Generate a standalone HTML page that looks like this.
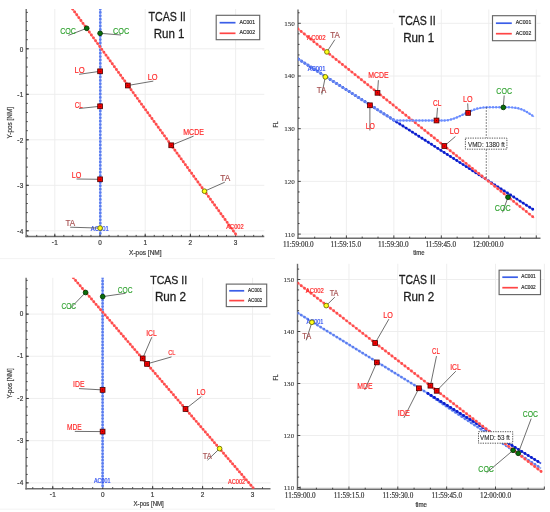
<!DOCTYPE html>
<html><head><meta charset="utf-8"><title>TCAS II runs</title><style>html,body{margin:0;padding:0;background:#fff;width:550px;height:512px;overflow:hidden}svg{display:block;filter:blur(0.4px)}</style></head><body>
<svg width="550" height="512" viewBox="0 0 550 512">
<defs><filter id="sh" x="-10%" y="-10%" width="130%" height="140%"><feDropShadow dx="0.6" dy="0.8" stdDeviation="0.6" flood-color="#000" flood-opacity="0.25"/></filter><clipPath id="c1"><rect x="26" y="9" width="239" height="228"/></clipPath><clipPath id="c2"><rect x="298" y="9.5" width="243" height="229"/></clipPath><clipPath id="c3"><rect x="26" y="277.8" width="245" height="211"/></clipPath><clipPath id="c4"><rect x="297.5" y="263.8" width="247" height="226"/></clipPath></defs>
<rect width="550" height="512" fill="#ffffff"/>
<line x1="0" y1="258.6" x2="275" y2="258.6" stroke="#f3f3f3" stroke-width="1"/>
<line x1="0" y1="509.2" x2="275" y2="509.2" stroke="#f3f3f3" stroke-width="1"/>
<line x1="54.8" y1="9" x2="54.8" y2="236.5" stroke="#ececec" stroke-width="0.9"/>
<line x1="100" y1="9" x2="100" y2="236.5" stroke="#ececec" stroke-width="0.9"/>
<line x1="145.2" y1="9" x2="145.2" y2="236.5" stroke="#ececec" stroke-width="0.9"/>
<line x1="190.4" y1="9" x2="190.4" y2="236.5" stroke="#ececec" stroke-width="0.9"/>
<line x1="235.6" y1="9" x2="235.6" y2="236.5" stroke="#ececec" stroke-width="0.9"/>
<line x1="26.2" y1="48.8" x2="264.3" y2="48.8" stroke="#ececec" stroke-width="0.9"/>
<line x1="26.2" y1="94.3" x2="264.3" y2="94.3" stroke="#ececec" stroke-width="0.9"/>
<line x1="26.2" y1="139.8" x2="264.3" y2="139.8" stroke="#ececec" stroke-width="0.9"/>
<line x1="26.2" y1="185.3" x2="264.3" y2="185.3" stroke="#ececec" stroke-width="0.9"/>
<line x1="26.2" y1="230.8" x2="264.3" y2="230.8" stroke="#ececec" stroke-width="0.9"/>
<line x1="26.2" y1="9" x2="26.2" y2="237.2" stroke="#6e6e6e" stroke-width="1.4"/>
<line x1="25.5" y1="236.5" x2="264.3" y2="236.5" stroke="#6e6e6e" stroke-width="1.4"/>
<line x1="27.68" y1="236.5" x2="27.68" y2="234.9" stroke="#333" stroke-width="0.9"/>
<line x1="36.72" y1="236.5" x2="36.72" y2="234.9" stroke="#333" stroke-width="0.9"/>
<line x1="45.76" y1="236.5" x2="45.76" y2="234.9" stroke="#333" stroke-width="0.9"/>
<line x1="54.8" y1="236.5" x2="54.8" y2="234.9" stroke="#333" stroke-width="0.9"/>
<line x1="63.84" y1="236.5" x2="63.84" y2="234.9" stroke="#333" stroke-width="0.9"/>
<line x1="72.88" y1="236.5" x2="72.88" y2="234.9" stroke="#333" stroke-width="0.9"/>
<line x1="81.92" y1="236.5" x2="81.92" y2="234.9" stroke="#333" stroke-width="0.9"/>
<line x1="90.96" y1="236.5" x2="90.96" y2="234.9" stroke="#333" stroke-width="0.9"/>
<line x1="100" y1="236.5" x2="100" y2="234.9" stroke="#333" stroke-width="0.9"/>
<line x1="109.04" y1="236.5" x2="109.04" y2="234.9" stroke="#333" stroke-width="0.9"/>
<line x1="118.08" y1="236.5" x2="118.08" y2="234.9" stroke="#333" stroke-width="0.9"/>
<line x1="127.12" y1="236.5" x2="127.12" y2="234.9" stroke="#333" stroke-width="0.9"/>
<line x1="136.16" y1="236.5" x2="136.16" y2="234.9" stroke="#333" stroke-width="0.9"/>
<line x1="145.2" y1="236.5" x2="145.2" y2="234.9" stroke="#333" stroke-width="0.9"/>
<line x1="154.24" y1="236.5" x2="154.24" y2="234.9" stroke="#333" stroke-width="0.9"/>
<line x1="163.28" y1="236.5" x2="163.28" y2="234.9" stroke="#333" stroke-width="0.9"/>
<line x1="172.32" y1="236.5" x2="172.32" y2="234.9" stroke="#333" stroke-width="0.9"/>
<line x1="181.36" y1="236.5" x2="181.36" y2="234.9" stroke="#333" stroke-width="0.9"/>
<line x1="190.4" y1="236.5" x2="190.4" y2="234.9" stroke="#333" stroke-width="0.9"/>
<line x1="199.44" y1="236.5" x2="199.44" y2="234.9" stroke="#333" stroke-width="0.9"/>
<line x1="208.48" y1="236.5" x2="208.48" y2="234.9" stroke="#333" stroke-width="0.9"/>
<line x1="217.52" y1="236.5" x2="217.52" y2="234.9" stroke="#333" stroke-width="0.9"/>
<line x1="226.56" y1="236.5" x2="226.56" y2="234.9" stroke="#333" stroke-width="0.9"/>
<line x1="235.6" y1="236.5" x2="235.6" y2="234.9" stroke="#333" stroke-width="0.9"/>
<line x1="244.64" y1="236.5" x2="244.64" y2="234.9" stroke="#333" stroke-width="0.9"/>
<line x1="253.68" y1="236.5" x2="253.68" y2="234.9" stroke="#333" stroke-width="0.9"/>
<line x1="262.72" y1="236.5" x2="262.72" y2="234.9" stroke="#333" stroke-width="0.9"/>
<line x1="54.8" y1="236.5" x2="54.8" y2="233.7" stroke="#333" stroke-width="0.9"/>
<line x1="100" y1="236.5" x2="100" y2="233.7" stroke="#333" stroke-width="0.9"/>
<line x1="145.2" y1="236.5" x2="145.2" y2="233.7" stroke="#333" stroke-width="0.9"/>
<line x1="190.4" y1="236.5" x2="190.4" y2="233.7" stroke="#333" stroke-width="0.9"/>
<line x1="235.6" y1="236.5" x2="235.6" y2="233.7" stroke="#333" stroke-width="0.9"/>
<line x1="26.2" y1="12.4" x2="27.8" y2="12.4" stroke="#333" stroke-width="0.9"/>
<line x1="26.2" y1="21.5" x2="27.8" y2="21.5" stroke="#333" stroke-width="0.9"/>
<line x1="26.2" y1="30.6" x2="27.8" y2="30.6" stroke="#333" stroke-width="0.9"/>
<line x1="26.2" y1="39.7" x2="27.8" y2="39.7" stroke="#333" stroke-width="0.9"/>
<line x1="26.2" y1="48.8" x2="27.8" y2="48.8" stroke="#333" stroke-width="0.9"/>
<line x1="26.2" y1="57.9" x2="27.8" y2="57.9" stroke="#333" stroke-width="0.9"/>
<line x1="26.2" y1="67" x2="27.8" y2="67" stroke="#333" stroke-width="0.9"/>
<line x1="26.2" y1="76.1" x2="27.8" y2="76.1" stroke="#333" stroke-width="0.9"/>
<line x1="26.2" y1="85.2" x2="27.8" y2="85.2" stroke="#333" stroke-width="0.9"/>
<line x1="26.2" y1="94.3" x2="27.8" y2="94.3" stroke="#333" stroke-width="0.9"/>
<line x1="26.2" y1="103.4" x2="27.8" y2="103.4" stroke="#333" stroke-width="0.9"/>
<line x1="26.2" y1="112.5" x2="27.8" y2="112.5" stroke="#333" stroke-width="0.9"/>
<line x1="26.2" y1="121.6" x2="27.8" y2="121.6" stroke="#333" stroke-width="0.9"/>
<line x1="26.2" y1="130.7" x2="27.8" y2="130.7" stroke="#333" stroke-width="0.9"/>
<line x1="26.2" y1="139.8" x2="27.8" y2="139.8" stroke="#333" stroke-width="0.9"/>
<line x1="26.2" y1="148.9" x2="27.8" y2="148.9" stroke="#333" stroke-width="0.9"/>
<line x1="26.2" y1="158" x2="27.8" y2="158" stroke="#333" stroke-width="0.9"/>
<line x1="26.2" y1="167.1" x2="27.8" y2="167.1" stroke="#333" stroke-width="0.9"/>
<line x1="26.2" y1="176.2" x2="27.8" y2="176.2" stroke="#333" stroke-width="0.9"/>
<line x1="26.2" y1="185.3" x2="27.8" y2="185.3" stroke="#333" stroke-width="0.9"/>
<line x1="26.2" y1="194.4" x2="27.8" y2="194.4" stroke="#333" stroke-width="0.9"/>
<line x1="26.2" y1="203.5" x2="27.8" y2="203.5" stroke="#333" stroke-width="0.9"/>
<line x1="26.2" y1="212.6" x2="27.8" y2="212.6" stroke="#333" stroke-width="0.9"/>
<line x1="26.2" y1="221.7" x2="27.8" y2="221.7" stroke="#333" stroke-width="0.9"/>
<line x1="26.2" y1="230.8" x2="27.8" y2="230.8" stroke="#333" stroke-width="0.9"/>
<line x1="26.2" y1="48.8" x2="29" y2="48.8" stroke="#333" stroke-width="0.9"/>
<line x1="26.2" y1="94.3" x2="29" y2="94.3" stroke="#333" stroke-width="0.9"/>
<line x1="26.2" y1="139.8" x2="29" y2="139.8" stroke="#333" stroke-width="0.9"/>
<line x1="26.2" y1="185.3" x2="29" y2="185.3" stroke="#333" stroke-width="0.9"/>
<line x1="26.2" y1="230.8" x2="29" y2="230.8" stroke="#333" stroke-width="0.9"/>
<text x="54.8" y="244.9" font-family="'Liberation Sans', Arial, sans-serif" font-size="6.4" fill="#3a3a3a" stroke="#3a3a3a" stroke-width="0.2" text-anchor="middle"><tspan dy="-0.5">-</tspan><tspan dy="0.5" dx="0.35">1</tspan></text>
<text x="100" y="244.9" font-family="'Liberation Sans', Arial, sans-serif" font-size="6.4" fill="#3a3a3a" stroke="#3a3a3a" stroke-width="0.2" text-anchor="middle">0</text>
<text x="145.2" y="244.9" font-family="'Liberation Sans', Arial, sans-serif" font-size="6.4" fill="#3a3a3a" stroke="#3a3a3a" stroke-width="0.2" text-anchor="middle">1</text>
<text x="190.4" y="244.9" font-family="'Liberation Sans', Arial, sans-serif" font-size="6.4" fill="#3a3a3a" stroke="#3a3a3a" stroke-width="0.2" text-anchor="middle">2</text>
<text x="235.6" y="244.9" font-family="'Liberation Sans', Arial, sans-serif" font-size="6.4" fill="#3a3a3a" stroke="#3a3a3a" stroke-width="0.2" text-anchor="middle">3</text>
<text x="23.4" y="51.5" font-family="'Liberation Sans', Arial, sans-serif" font-size="6.4" fill="#3a3a3a" stroke="#3a3a3a" stroke-width="0.2" text-anchor="end">0</text>
<text x="23.4" y="97" font-family="'Liberation Sans', Arial, sans-serif" font-size="6.4" fill="#3a3a3a" stroke="#3a3a3a" stroke-width="0.2" text-anchor="end"><tspan dy="-0.5">-</tspan><tspan dy="0.5" dx="0.35">1</tspan></text>
<text x="23.4" y="142.5" font-family="'Liberation Sans', Arial, sans-serif" font-size="6.4" fill="#3a3a3a" stroke="#3a3a3a" stroke-width="0.2" text-anchor="end"><tspan dy="-0.5">-</tspan><tspan dy="0.5" dx="0.35">2</tspan></text>
<text x="23.4" y="188" font-family="'Liberation Sans', Arial, sans-serif" font-size="6.4" fill="#3a3a3a" stroke="#3a3a3a" stroke-width="0.2" text-anchor="end"><tspan dy="-0.5">-</tspan><tspan dy="0.5" dx="0.35">3</tspan></text>
<text x="23.4" y="233.5" font-family="'Liberation Sans', Arial, sans-serif" font-size="6.4" fill="#3a3a3a" stroke="#3a3a3a" stroke-width="0.2" text-anchor="end"><tspan dy="-0.5">-</tspan><tspan dy="0.5" dx="0.35">4</tspan></text>
<text x="129.1" y="254.71" font-family="'Liberation Sans', Arial, sans-serif" font-size="7" fill="#3a3a3a" stroke="#3a3a3a" stroke-width="0.2" textLength="32.5" lengthAdjust="spacingAndGlyphs">X-pos [NM]</text>
<g transform="translate(9.6 122.7) rotate(-90)">
<text x="-15.7" y="2.41" font-family="'Liberation Sans', Arial, sans-serif" font-size="7" fill="#3a3a3a" stroke="#3a3a3a" stroke-width="0.2" textLength="31.4" lengthAdjust="spacingAndGlyphs">Y-pos [NM]</text>
</g>
<rect x="147.3" y="8.9" width="40.1" height="14.9" fill="#ffffff"/>
<rect x="152.4" y="25.4" width="33.7" height="15.3" fill="#ffffff"/>
<text x="148.6" y="20.93" font-family="'Liberation Sans', Arial, sans-serif" font-size="12.72" fill="#1e1e1e" stroke="#1e1e1e" stroke-width="0.3" textLength="37.2" lengthAdjust="spacingAndGlyphs">TCAS II</text>
<text x="153.7" y="37.83" font-family="'Liberation Sans', Arial, sans-serif" font-size="13.3" fill="#1e1e1e" stroke="#1e1e1e" stroke-width="0.3" textLength="30.8" lengthAdjust="spacingAndGlyphs">Run 1</text>
<rect x="216.2" y="15.3" width="43.5" height="24.4" fill="#ffffff" stroke="#666" stroke-width="1.15"/>
<line x1="219.6" y1="22.7" x2="235.5" y2="22.7" stroke="#3a5ee8" stroke-width="1.7"/>
<line x1="219.6" y1="33.3" x2="235.5" y2="33.3" stroke="#ff4545" stroke-width="1.7"/>
<text x="239.39" y="23.66" font-family="'Liberation Sans', Arial, sans-serif" font-size="5.4" fill="#2a2a2a" stroke="#2a2a2a" stroke-width="0.18" textLength="15.62" lengthAdjust="spacingAndGlyphs">AC001</text>
<text x="239.39" y="34.16" font-family="'Liberation Sans', Arial, sans-serif" font-size="5.4" fill="#2a2a2a" stroke="#2a2a2a" stroke-width="0.18" textLength="15.62" lengthAdjust="spacingAndGlyphs">AC002</text>
<path d="M100.3 9 L100.3 233.5" fill="none" stroke="#9cb3f8" stroke-width="1.7" stroke-opacity="1" clip-path="url(#c1)"/>
<path d="M100.3 9 L100.3 233.5" fill="none" stroke="#5c7ef0" stroke-width="2.8" stroke-linecap="round" stroke-dasharray="0 3.4" clip-path="url(#c1)"/>
<path d="M72.57 9 L236.9 235.8" fill="none" stroke="#ff9c9c" stroke-width="1.7" stroke-opacity="1" clip-path="url(#c1)"/>
<path d="M72.57 9 L236.9 235.8" fill="none" stroke="#ff4c4c" stroke-width="2.9" stroke-linecap="round" stroke-dasharray="0 3.56" clip-path="url(#c1)"/>
<line x1="68.3" y1="35.4" x2="86.7" y2="28.3" stroke="#4a4a4a" stroke-width="0.8"/>
<circle cx="86.7" cy="28.3" r="2.35" fill="#0a6e0a" stroke="#033803" stroke-width="0.9"/>
<text x="60.14" y="34.19" font-family="'Liberation Sans', Arial, sans-serif" font-size="9.55" fill="#34a434" stroke="#34a434" stroke-width="0.18" textLength="15.92" lengthAdjust="spacingAndGlyphs">COC</text>
<line x1="100.1" y1="33.3" x2="121" y2="35" stroke="#4a4a4a" stroke-width="0.8"/>
<circle cx="100.1" cy="33.3" r="2.35" fill="#0a6e0a" stroke="#033803" stroke-width="0.9"/>
<text x="112.94" y="34.19" font-family="'Liberation Sans', Arial, sans-serif" font-size="9.55" fill="#34a434" stroke="#34a434" stroke-width="0.18" textLength="16.32" lengthAdjust="spacingAndGlyphs">COC</text>
<line x1="79.1" y1="74.3" x2="100.1" y2="71.3" stroke="#4a4a4a" stroke-width="0.8"/>
<rect x="97.7" y="68.9" width="4.8" height="4.8" fill="#f20000" stroke="#4a0000" stroke-width="0.8"/>
<circle cx="100.1" cy="71.3" r="0.55" fill="#6a0000"/>
<text x="74.44" y="73.48" font-family="'Liberation Sans', Arial, sans-serif" font-size="9.26" fill="#ff2a2a" stroke="#ff2a2a" stroke-width="0.18" textLength="10.22" lengthAdjust="spacingAndGlyphs">LO</text>
<line x1="79.1" y1="108.5" x2="100.1" y2="106.3" stroke="#4a4a4a" stroke-width="0.8"/>
<rect x="97.7" y="103.9" width="4.8" height="4.8" fill="#f20000" stroke="#4a0000" stroke-width="0.8"/>
<circle cx="100.1" cy="106.3" r="0.55" fill="#6a0000"/>
<text x="74.74" y="107.58" font-family="'Liberation Sans', Arial, sans-serif" font-size="9.26" fill="#ff2a2a" stroke="#ff2a2a" stroke-width="0.18" textLength="8.02" lengthAdjust="spacingAndGlyphs">CL</text>
<line x1="76.5" y1="179" x2="100.1" y2="179.3" stroke="#4a4a4a" stroke-width="0.8"/>
<rect x="97.7" y="176.9" width="4.8" height="4.8" fill="#f20000" stroke="#4a0000" stroke-width="0.8"/>
<circle cx="100.1" cy="179.3" r="0.55" fill="#6a0000"/>
<text x="71.84" y="177.68" font-family="'Liberation Sans', Arial, sans-serif" font-size="8.39" fill="#ff2a2a" stroke="#ff2a2a" stroke-width="0.18" textLength="9.62" lengthAdjust="spacingAndGlyphs">LO</text>
<line x1="127.8" y1="85.5" x2="153.3" y2="81.1" stroke="#4a4a4a" stroke-width="0.8"/>
<rect x="125.4" y="83.1" width="4.8" height="4.8" fill="#f20000" stroke="#4a0000" stroke-width="0.8"/>
<circle cx="127.8" cy="85.5" r="0.55" fill="#6a0000"/>
<text x="147.64" y="79.78" font-family="'Liberation Sans', Arial, sans-serif" font-size="8.24" fill="#ff2a2a" stroke="#ff2a2a" stroke-width="0.18" textLength="9.92" lengthAdjust="spacingAndGlyphs">LO</text>
<line x1="171.25" y1="145.3" x2="193.6" y2="136.1" stroke="#4a4a4a" stroke-width="0.8"/>
<rect x="168.85" y="142.9" width="4.8" height="4.8" fill="#f20000" stroke="#4a0000" stroke-width="0.8"/>
<circle cx="171.25" cy="145.3" r="0.55" fill="#6a0000"/>
<text x="183.24" y="135.18" font-family="'Liberation Sans', Arial, sans-serif" font-size="8.82" fill="#ff2a2a" stroke="#ff2a2a" stroke-width="0.18" textLength="20.72" lengthAdjust="spacingAndGlyphs">MCDE</text>
<text x="90.8" y="231.07" font-family="'Liberation Sans', Arial, sans-serif" font-size="6.6" fill="#3050f0" stroke="#3050f0" stroke-width="0.2" textLength="17.9" lengthAdjust="spacingAndGlyphs">AC001</text>
<line x1="70.2" y1="227.2" x2="100.1" y2="228.1" stroke="#4a4a4a" stroke-width="0.8"/>
<circle cx="100.1" cy="228.1" r="2.35" fill="#ffff1a" stroke="#707000" stroke-width="0.9"/>
<text x="65.44" y="226.28" font-family="'Liberation Sans', Arial, sans-serif" font-size="8.82" fill="#a65050" stroke="#a65050" stroke-width="0.18" textLength="9.72" lengthAdjust="spacingAndGlyphs">TA</text>
<line x1="204.5" y1="191.2" x2="224.8" y2="182.2" stroke="#4a4a4a" stroke-width="0.8"/>
<circle cx="204.5" cy="191.2" r="2.35" fill="#ffff1a" stroke="#707000" stroke-width="0.9"/>
<text x="220.34" y="180.58" font-family="'Liberation Sans', Arial, sans-serif" font-size="9.69" fill="#a65050" stroke="#a65050" stroke-width="0.18" textLength="9.92" lengthAdjust="spacingAndGlyphs">TA</text>
<text x="226.3" y="228.57" font-family="'Liberation Sans', Arial, sans-serif" font-size="6.6" fill="#ff2a2a" stroke="#ff2a2a" stroke-width="0.2" textLength="17.3" lengthAdjust="spacingAndGlyphs">AC002</text>
<line x1="52.75" y1="277.8" x2="52.75" y2="488.7" stroke="#ececec" stroke-width="0.9"/>
<line x1="102.7" y1="277.8" x2="102.7" y2="488.7" stroke="#ececec" stroke-width="0.9"/>
<line x1="152.65" y1="277.8" x2="152.65" y2="488.7" stroke="#ececec" stroke-width="0.9"/>
<line x1="202.6" y1="277.8" x2="202.6" y2="488.7" stroke="#ececec" stroke-width="0.9"/>
<line x1="252.55" y1="277.8" x2="252.55" y2="488.7" stroke="#ececec" stroke-width="0.9"/>
<line x1="26.1" y1="314.1" x2="270.5" y2="314.1" stroke="#ececec" stroke-width="0.9"/>
<line x1="26.1" y1="356.29" x2="270.5" y2="356.29" stroke="#ececec" stroke-width="0.9"/>
<line x1="26.1" y1="398.48" x2="270.5" y2="398.48" stroke="#ececec" stroke-width="0.9"/>
<line x1="26.1" y1="440.67" x2="270.5" y2="440.67" stroke="#ececec" stroke-width="0.9"/>
<line x1="26.1" y1="482.86" x2="270.5" y2="482.86" stroke="#ececec" stroke-width="0.9"/>
<line x1="26.1" y1="277.8" x2="26.1" y2="489.4" stroke="#6e6e6e" stroke-width="1.4"/>
<line x1="25.4" y1="488.7" x2="270.5" y2="488.7" stroke="#6e6e6e" stroke-width="1.4"/>
<line x1="32.77" y1="488.7" x2="32.77" y2="487.1" stroke="#333" stroke-width="0.9"/>
<line x1="42.76" y1="488.7" x2="42.76" y2="487.1" stroke="#333" stroke-width="0.9"/>
<line x1="52.75" y1="488.7" x2="52.75" y2="487.1" stroke="#333" stroke-width="0.9"/>
<line x1="62.74" y1="488.7" x2="62.74" y2="487.1" stroke="#333" stroke-width="0.9"/>
<line x1="72.73" y1="488.7" x2="72.73" y2="487.1" stroke="#333" stroke-width="0.9"/>
<line x1="82.72" y1="488.7" x2="82.72" y2="487.1" stroke="#333" stroke-width="0.9"/>
<line x1="92.71" y1="488.7" x2="92.71" y2="487.1" stroke="#333" stroke-width="0.9"/>
<line x1="102.7" y1="488.7" x2="102.7" y2="487.1" stroke="#333" stroke-width="0.9"/>
<line x1="112.69" y1="488.7" x2="112.69" y2="487.1" stroke="#333" stroke-width="0.9"/>
<line x1="122.68" y1="488.7" x2="122.68" y2="487.1" stroke="#333" stroke-width="0.9"/>
<line x1="132.67" y1="488.7" x2="132.67" y2="487.1" stroke="#333" stroke-width="0.9"/>
<line x1="142.66" y1="488.7" x2="142.66" y2="487.1" stroke="#333" stroke-width="0.9"/>
<line x1="152.65" y1="488.7" x2="152.65" y2="487.1" stroke="#333" stroke-width="0.9"/>
<line x1="162.64" y1="488.7" x2="162.64" y2="487.1" stroke="#333" stroke-width="0.9"/>
<line x1="172.63" y1="488.7" x2="172.63" y2="487.1" stroke="#333" stroke-width="0.9"/>
<line x1="182.62" y1="488.7" x2="182.62" y2="487.1" stroke="#333" stroke-width="0.9"/>
<line x1="192.61" y1="488.7" x2="192.61" y2="487.1" stroke="#333" stroke-width="0.9"/>
<line x1="202.6" y1="488.7" x2="202.6" y2="487.1" stroke="#333" stroke-width="0.9"/>
<line x1="212.59" y1="488.7" x2="212.59" y2="487.1" stroke="#333" stroke-width="0.9"/>
<line x1="222.58" y1="488.7" x2="222.58" y2="487.1" stroke="#333" stroke-width="0.9"/>
<line x1="232.57" y1="488.7" x2="232.57" y2="487.1" stroke="#333" stroke-width="0.9"/>
<line x1="242.56" y1="488.7" x2="242.56" y2="487.1" stroke="#333" stroke-width="0.9"/>
<line x1="252.55" y1="488.7" x2="252.55" y2="487.1" stroke="#333" stroke-width="0.9"/>
<line x1="262.54" y1="488.7" x2="262.54" y2="487.1" stroke="#333" stroke-width="0.9"/>
<line x1="52.75" y1="488.7" x2="52.75" y2="485.9" stroke="#333" stroke-width="0.9"/>
<line x1="102.7" y1="488.7" x2="102.7" y2="485.9" stroke="#333" stroke-width="0.9"/>
<line x1="152.65" y1="488.7" x2="152.65" y2="485.9" stroke="#333" stroke-width="0.9"/>
<line x1="202.6" y1="488.7" x2="202.6" y2="485.9" stroke="#333" stroke-width="0.9"/>
<line x1="252.55" y1="488.7" x2="252.55" y2="485.9" stroke="#333" stroke-width="0.9"/>
<line x1="26.1" y1="280.35" x2="27.7" y2="280.35" stroke="#333" stroke-width="0.9"/>
<line x1="26.1" y1="288.79" x2="27.7" y2="288.79" stroke="#333" stroke-width="0.9"/>
<line x1="26.1" y1="297.22" x2="27.7" y2="297.22" stroke="#333" stroke-width="0.9"/>
<line x1="26.1" y1="305.66" x2="27.7" y2="305.66" stroke="#333" stroke-width="0.9"/>
<line x1="26.1" y1="314.1" x2="27.7" y2="314.1" stroke="#333" stroke-width="0.9"/>
<line x1="26.1" y1="322.54" x2="27.7" y2="322.54" stroke="#333" stroke-width="0.9"/>
<line x1="26.1" y1="330.98" x2="27.7" y2="330.98" stroke="#333" stroke-width="0.9"/>
<line x1="26.1" y1="339.41" x2="27.7" y2="339.41" stroke="#333" stroke-width="0.9"/>
<line x1="26.1" y1="347.85" x2="27.7" y2="347.85" stroke="#333" stroke-width="0.9"/>
<line x1="26.1" y1="356.29" x2="27.7" y2="356.29" stroke="#333" stroke-width="0.9"/>
<line x1="26.1" y1="364.73" x2="27.7" y2="364.73" stroke="#333" stroke-width="0.9"/>
<line x1="26.1" y1="373.17" x2="27.7" y2="373.17" stroke="#333" stroke-width="0.9"/>
<line x1="26.1" y1="381.6" x2="27.7" y2="381.6" stroke="#333" stroke-width="0.9"/>
<line x1="26.1" y1="390.04" x2="27.7" y2="390.04" stroke="#333" stroke-width="0.9"/>
<line x1="26.1" y1="398.48" x2="27.7" y2="398.48" stroke="#333" stroke-width="0.9"/>
<line x1="26.1" y1="406.92" x2="27.7" y2="406.92" stroke="#333" stroke-width="0.9"/>
<line x1="26.1" y1="415.36" x2="27.7" y2="415.36" stroke="#333" stroke-width="0.9"/>
<line x1="26.1" y1="423.79" x2="27.7" y2="423.79" stroke="#333" stroke-width="0.9"/>
<line x1="26.1" y1="432.23" x2="27.7" y2="432.23" stroke="#333" stroke-width="0.9"/>
<line x1="26.1" y1="440.67" x2="27.7" y2="440.67" stroke="#333" stroke-width="0.9"/>
<line x1="26.1" y1="449.11" x2="27.7" y2="449.11" stroke="#333" stroke-width="0.9"/>
<line x1="26.1" y1="457.55" x2="27.7" y2="457.55" stroke="#333" stroke-width="0.9"/>
<line x1="26.1" y1="465.98" x2="27.7" y2="465.98" stroke="#333" stroke-width="0.9"/>
<line x1="26.1" y1="474.42" x2="27.7" y2="474.42" stroke="#333" stroke-width="0.9"/>
<line x1="26.1" y1="482.86" x2="27.7" y2="482.86" stroke="#333" stroke-width="0.9"/>
<line x1="26.1" y1="314.1" x2="28.9" y2="314.1" stroke="#333" stroke-width="0.9"/>
<line x1="26.1" y1="356.29" x2="28.9" y2="356.29" stroke="#333" stroke-width="0.9"/>
<line x1="26.1" y1="398.48" x2="28.9" y2="398.48" stroke="#333" stroke-width="0.9"/>
<line x1="26.1" y1="440.67" x2="28.9" y2="440.67" stroke="#333" stroke-width="0.9"/>
<line x1="26.1" y1="482.86" x2="28.9" y2="482.86" stroke="#333" stroke-width="0.9"/>
<text x="52.75" y="496.7" font-family="'Liberation Sans', Arial, sans-serif" font-size="6.4" fill="#3a3a3a" stroke="#3a3a3a" stroke-width="0.2" text-anchor="middle"><tspan dy="-0.5">-</tspan><tspan dy="0.5" dx="0.35">1</tspan></text>
<text x="102.7" y="496.7" font-family="'Liberation Sans', Arial, sans-serif" font-size="6.4" fill="#3a3a3a" stroke="#3a3a3a" stroke-width="0.2" text-anchor="middle">0</text>
<text x="152.65" y="496.7" font-family="'Liberation Sans', Arial, sans-serif" font-size="6.4" fill="#3a3a3a" stroke="#3a3a3a" stroke-width="0.2" text-anchor="middle">1</text>
<text x="202.6" y="496.7" font-family="'Liberation Sans', Arial, sans-serif" font-size="6.4" fill="#3a3a3a" stroke="#3a3a3a" stroke-width="0.2" text-anchor="middle">2</text>
<text x="252.55" y="496.7" font-family="'Liberation Sans', Arial, sans-serif" font-size="6.4" fill="#3a3a3a" stroke="#3a3a3a" stroke-width="0.2" text-anchor="middle">3</text>
<text x="23.3" y="316.3" font-family="'Liberation Sans', Arial, sans-serif" font-size="6.4" fill="#3a3a3a" stroke="#3a3a3a" stroke-width="0.2" text-anchor="end">0</text>
<text x="23.3" y="358.49" font-family="'Liberation Sans', Arial, sans-serif" font-size="6.4" fill="#3a3a3a" stroke="#3a3a3a" stroke-width="0.2" text-anchor="end"><tspan dy="-0.5">-</tspan><tspan dy="0.5" dx="0.35">1</tspan></text>
<text x="23.3" y="400.68" font-family="'Liberation Sans', Arial, sans-serif" font-size="6.4" fill="#3a3a3a" stroke="#3a3a3a" stroke-width="0.2" text-anchor="end"><tspan dy="-0.5">-</tspan><tspan dy="0.5" dx="0.35">2</tspan></text>
<text x="23.3" y="442.87" font-family="'Liberation Sans', Arial, sans-serif" font-size="6.4" fill="#3a3a3a" stroke="#3a3a3a" stroke-width="0.2" text-anchor="end"><tspan dy="-0.5">-</tspan><tspan dy="0.5" dx="0.35">3</tspan></text>
<text x="23.3" y="485.06" font-family="'Liberation Sans', Arial, sans-serif" font-size="6.4" fill="#3a3a3a" stroke="#3a3a3a" stroke-width="0.2" text-anchor="end"><tspan dy="-0.5">-</tspan><tspan dy="0.5" dx="0.35">4</tspan></text>
<text x="133.6" y="505.91" font-family="'Liberation Sans', Arial, sans-serif" font-size="7" fill="#3a3a3a" stroke="#3a3a3a" stroke-width="0.2" textLength="30.2" lengthAdjust="spacingAndGlyphs">X-pos [NM]</text>
<g transform="translate(9.9 383.4) rotate(-90)">
<text x="-15.1" y="2.41" font-family="'Liberation Sans', Arial, sans-serif" font-size="7" fill="#3a3a3a" stroke="#3a3a3a" stroke-width="0.2" textLength="30.2" lengthAdjust="spacingAndGlyphs">Y-pos [NM]</text>
</g>
<rect x="146.9" y="272.5" width="41.9" height="14" fill="#ffffff"/>
<rect x="153.8" y="289.7" width="33.9" height="14.3" fill="#ffffff"/>
<text x="150.2" y="283.62" font-family="'Liberation Sans', Arial, sans-serif" font-size="11.41" fill="#1e1e1e" stroke="#1e1e1e" stroke-width="0.3" textLength="37" lengthAdjust="spacingAndGlyphs">TCAS II</text>
<text x="154.9" y="301.12" font-family="'Liberation Sans', Arial, sans-serif" font-size="11.85" fill="#1e1e1e" stroke="#1e1e1e" stroke-width="0.3" textLength="31.2" lengthAdjust="spacingAndGlyphs">Run 2</text>
<rect x="226.3" y="284.1" width="40.4" height="22.5" fill="#ffffff" stroke="#666" stroke-width="1.15"/>
<line x1="229.2" y1="290.8" x2="244.2" y2="290.8" stroke="#3a5ee8" stroke-width="1.7"/>
<line x1="229.2" y1="300.6" x2="244.2" y2="300.6" stroke="#ff4545" stroke-width="1.7"/>
<text x="247.89" y="291.86" font-family="'Liberation Sans', Arial, sans-serif" font-size="5.4" fill="#2a2a2a" stroke="#2a2a2a" stroke-width="0.18" textLength="14.32" lengthAdjust="spacingAndGlyphs">AC001</text>
<text x="247.89" y="301.66" font-family="'Liberation Sans', Arial, sans-serif" font-size="5.4" fill="#2a2a2a" stroke="#2a2a2a" stroke-width="0.18" textLength="14.32" lengthAdjust="spacingAndGlyphs">AC002</text>
<path d="M102.6 277.8 L102.6 487.5" fill="none" stroke="#9cb3f8" stroke-width="1.7" stroke-opacity="1" clip-path="url(#c3)"/>
<path d="M102.6 277.8 L102.6 487.5" fill="none" stroke="#5c7ef0" stroke-width="2.8" stroke-linecap="round" stroke-dasharray="0 3.2" clip-path="url(#c3)"/>
<path d="M73.29 277.8 L253.4 488.17" fill="none" stroke="#ff9c9c" stroke-width="1.7" stroke-opacity="1" clip-path="url(#c3)"/>
<path d="M73.29 277.8 L253.4 488.17" fill="none" stroke="#ff4c4c" stroke-width="2.9" stroke-linecap="round" stroke-dasharray="0 3.5" clip-path="url(#c3)"/>
<line x1="85.6" y1="292.5" x2="69.6" y2="309" stroke="#4a4a4a" stroke-width="0.8"/>
<circle cx="85.6" cy="292.5" r="2.35" fill="#0a6e0a" stroke="#033803" stroke-width="0.9"/>
<text x="61.44" y="308.99" font-family="'Liberation Sans', Arial, sans-serif" font-size="8.39" fill="#34a434" stroke="#34a434" stroke-width="0.18" textLength="14.62" lengthAdjust="spacingAndGlyphs">COC</text>
<line x1="102.7" y1="296.6" x2="125.6" y2="293.3" stroke="#4a4a4a" stroke-width="0.8"/>
<circle cx="102.7" cy="296.6" r="2.35" fill="#0a6e0a" stroke="#033803" stroke-width="0.9"/>
<text x="117.74" y="292.79" font-family="'Liberation Sans', Arial, sans-serif" font-size="8.97" fill="#34a434" stroke="#34a434" stroke-width="0.18" textLength="14.82" lengthAdjust="spacingAndGlyphs">COC</text>
<line x1="142.7" y1="358.4" x2="151.8" y2="337.2" stroke="#4a4a4a" stroke-width="0.8"/>
<rect x="140.3" y="356" width="4.8" height="4.8" fill="#f20000" stroke="#4a0000" stroke-width="0.8"/>
<circle cx="142.7" cy="358.4" r="0.55" fill="#6a0000"/>
<text x="146.24" y="335.88" font-family="'Liberation Sans', Arial, sans-serif" font-size="8.68" fill="#ff2a2a" stroke="#ff2a2a" stroke-width="0.18" textLength="10.52" lengthAdjust="spacingAndGlyphs">ICL</text>
<line x1="147" y1="363.9" x2="171.5" y2="356.9" stroke="#4a4a4a" stroke-width="0.8"/>
<rect x="144.6" y="361.5" width="4.8" height="4.8" fill="#f20000" stroke="#4a0000" stroke-width="0.8"/>
<circle cx="147" cy="363.9" r="0.55" fill="#6a0000"/>
<text x="168.24" y="354.99" font-family="'Liberation Sans', Arial, sans-serif" font-size="7.95" fill="#ff2a2a" stroke="#ff2a2a" stroke-width="0.18" textLength="7.32" lengthAdjust="spacingAndGlyphs">CL</text>
<line x1="185.5" y1="409" x2="201.4" y2="396.5" stroke="#4a4a4a" stroke-width="0.8"/>
<rect x="183.1" y="406.6" width="4.8" height="4.8" fill="#f20000" stroke="#4a0000" stroke-width="0.8"/>
<circle cx="185.5" cy="409" r="0.55" fill="#6a0000"/>
<text x="196.44" y="395.29" font-family="'Liberation Sans', Arial, sans-serif" font-size="8.39" fill="#ff2a2a" stroke="#ff2a2a" stroke-width="0.18" textLength="9.02" lengthAdjust="spacingAndGlyphs">LO</text>
<line x1="79" y1="388.6" x2="102.6" y2="389.9" stroke="#4a4a4a" stroke-width="0.8"/>
<rect x="100.2" y="387.5" width="4.8" height="4.8" fill="#f20000" stroke="#4a0000" stroke-width="0.8"/>
<circle cx="102.6" cy="389.9" r="0.55" fill="#6a0000"/>
<text x="73.04" y="387.38" font-family="'Liberation Sans', Arial, sans-serif" font-size="8.68" fill="#ff2a2a" stroke="#ff2a2a" stroke-width="0.18" textLength="11.42" lengthAdjust="spacingAndGlyphs">IDE</text>
<line x1="74.8" y1="431.4" x2="102.6" y2="431.6" stroke="#4a4a4a" stroke-width="0.8"/>
<rect x="100.2" y="429.2" width="4.8" height="4.8" fill="#f20000" stroke="#4a0000" stroke-width="0.8"/>
<circle cx="102.6" cy="431.6" r="0.55" fill="#6a0000"/>
<text x="67.04" y="429.69" font-family="'Liberation Sans', Arial, sans-serif" font-size="8.24" fill="#ff2a2a" stroke="#ff2a2a" stroke-width="0.18" textLength="14.62" lengthAdjust="spacingAndGlyphs">MDE</text>
<line x1="219.6" y1="448.6" x2="207.5" y2="460.2" stroke="#4a4a4a" stroke-width="0.8"/>
<circle cx="219.6" cy="448.6" r="2.35" fill="#ffff1a" stroke="#707000" stroke-width="0.9"/>
<text x="202.84" y="459.09" font-family="'Liberation Sans', Arial, sans-serif" font-size="8.53" fill="#a65050" stroke="#a65050" stroke-width="0.18" textLength="9.02" lengthAdjust="spacingAndGlyphs">TA</text>
<text x="93.9" y="482.97" font-family="'Liberation Sans', Arial, sans-serif" font-size="6.6" fill="#3050f0" stroke="#3050f0" stroke-width="0.2" textLength="16.5" lengthAdjust="spacingAndGlyphs">AC001</text>
<text x="228" y="483.67" font-family="'Liberation Sans', Arial, sans-serif" font-size="6.6" fill="#ff2a2a" stroke="#ff2a2a" stroke-width="0.2" textLength="17.2" lengthAdjust="spacingAndGlyphs">AC002</text>
<line x1="346.38" y1="9.5" x2="346.38" y2="238.2" stroke="#ececec" stroke-width="0.9"/>
<line x1="393.85" y1="9.5" x2="393.85" y2="238.2" stroke="#ececec" stroke-width="0.9"/>
<line x1="441.32" y1="9.5" x2="441.32" y2="238.2" stroke="#ececec" stroke-width="0.9"/>
<line x1="488.8" y1="9.5" x2="488.8" y2="238.2" stroke="#ececec" stroke-width="0.9"/>
<line x1="536.27" y1="9.5" x2="536.27" y2="238.2" stroke="#ececec" stroke-width="0.9"/>
<line x1="298" y1="234.1" x2="540.5" y2="234.1" stroke="#ececec" stroke-width="0.9"/>
<line x1="298" y1="181.4" x2="540.5" y2="181.4" stroke="#ececec" stroke-width="0.9"/>
<line x1="298" y1="128.7" x2="540.5" y2="128.7" stroke="#ececec" stroke-width="0.9"/>
<line x1="298" y1="76" x2="540.5" y2="76" stroke="#ececec" stroke-width="0.9"/>
<line x1="298" y1="23.3" x2="540.5" y2="23.3" stroke="#ececec" stroke-width="0.9"/>
<line x1="298" y1="9.5" x2="298" y2="238.9" stroke="#6e6e6e" stroke-width="1.4"/>
<line x1="297.3" y1="238.2" x2="540.5" y2="238.2" stroke="#6e6e6e" stroke-width="1.4"/>
<line x1="314.72" y1="238.2" x2="314.72" y2="236.6" stroke="#333" stroke-width="0.9"/>
<line x1="330.55" y1="238.2" x2="330.55" y2="236.6" stroke="#333" stroke-width="0.9"/>
<line x1="362.2" y1="238.2" x2="362.2" y2="236.6" stroke="#333" stroke-width="0.9"/>
<line x1="378.02" y1="238.2" x2="378.02" y2="236.6" stroke="#333" stroke-width="0.9"/>
<line x1="409.67" y1="238.2" x2="409.67" y2="236.6" stroke="#333" stroke-width="0.9"/>
<line x1="425.5" y1="238.2" x2="425.5" y2="236.6" stroke="#333" stroke-width="0.9"/>
<line x1="457.15" y1="238.2" x2="457.15" y2="236.6" stroke="#333" stroke-width="0.9"/>
<line x1="472.97" y1="238.2" x2="472.97" y2="236.6" stroke="#333" stroke-width="0.9"/>
<line x1="504.62" y1="238.2" x2="504.62" y2="236.6" stroke="#333" stroke-width="0.9"/>
<line x1="520.45" y1="238.2" x2="520.45" y2="236.6" stroke="#333" stroke-width="0.9"/>
<line x1="346.38" y1="238.2" x2="346.38" y2="235.4" stroke="#333" stroke-width="0.9"/>
<line x1="393.85" y1="238.2" x2="393.85" y2="235.4" stroke="#333" stroke-width="0.9"/>
<line x1="441.32" y1="238.2" x2="441.32" y2="235.4" stroke="#333" stroke-width="0.9"/>
<line x1="488.8" y1="238.2" x2="488.8" y2="235.4" stroke="#333" stroke-width="0.9"/>
<line x1="536.27" y1="238.2" x2="536.27" y2="235.4" stroke="#333" stroke-width="0.9"/>
<line x1="298" y1="223.56" x2="299.6" y2="223.56" stroke="#333" stroke-width="0.9"/>
<line x1="298" y1="213.02" x2="299.6" y2="213.02" stroke="#333" stroke-width="0.9"/>
<line x1="298" y1="202.48" x2="299.6" y2="202.48" stroke="#333" stroke-width="0.9"/>
<line x1="298" y1="191.94" x2="299.6" y2="191.94" stroke="#333" stroke-width="0.9"/>
<line x1="298" y1="170.86" x2="299.6" y2="170.86" stroke="#333" stroke-width="0.9"/>
<line x1="298" y1="160.32" x2="299.6" y2="160.32" stroke="#333" stroke-width="0.9"/>
<line x1="298" y1="149.78" x2="299.6" y2="149.78" stroke="#333" stroke-width="0.9"/>
<line x1="298" y1="139.24" x2="299.6" y2="139.24" stroke="#333" stroke-width="0.9"/>
<line x1="298" y1="118.16" x2="299.6" y2="118.16" stroke="#333" stroke-width="0.9"/>
<line x1="298" y1="107.62" x2="299.6" y2="107.62" stroke="#333" stroke-width="0.9"/>
<line x1="298" y1="97.08" x2="299.6" y2="97.08" stroke="#333" stroke-width="0.9"/>
<line x1="298" y1="86.54" x2="299.6" y2="86.54" stroke="#333" stroke-width="0.9"/>
<line x1="298" y1="65.46" x2="299.6" y2="65.46" stroke="#333" stroke-width="0.9"/>
<line x1="298" y1="54.92" x2="299.6" y2="54.92" stroke="#333" stroke-width="0.9"/>
<line x1="298" y1="44.38" x2="299.6" y2="44.38" stroke="#333" stroke-width="0.9"/>
<line x1="298" y1="33.84" x2="299.6" y2="33.84" stroke="#333" stroke-width="0.9"/>
<line x1="298" y1="12.76" x2="299.6" y2="12.76" stroke="#333" stroke-width="0.9"/>
<line x1="298" y1="234.1" x2="300.8" y2="234.1" stroke="#333" stroke-width="0.9"/>
<line x1="298" y1="181.4" x2="300.8" y2="181.4" stroke="#333" stroke-width="0.9"/>
<line x1="298" y1="128.7" x2="300.8" y2="128.7" stroke="#333" stroke-width="0.9"/>
<line x1="298" y1="76" x2="300.8" y2="76" stroke="#333" stroke-width="0.9"/>
<line x1="298" y1="23.3" x2="300.8" y2="23.3" stroke="#333" stroke-width="0.9"/>
<text x="298.3" y="246.86" font-family="'Liberation Serif', 'Times New Roman', serif" font-size="7.2" fill="#3a3a3a" stroke="#3a3a3a" stroke-width="0.2" text-anchor="middle">11:59:00.0</text>
<text x="345.77" y="246.86" font-family="'Liberation Serif', 'Times New Roman', serif" font-size="7.2" fill="#3a3a3a" stroke="#3a3a3a" stroke-width="0.2" text-anchor="middle">11:59:15.0</text>
<text x="393.25" y="246.86" font-family="'Liberation Serif', 'Times New Roman', serif" font-size="7.2" fill="#3a3a3a" stroke="#3a3a3a" stroke-width="0.2" text-anchor="middle">11:59:30.0</text>
<text x="440.72" y="246.86" font-family="'Liberation Serif', 'Times New Roman', serif" font-size="7.2" fill="#3a3a3a" stroke="#3a3a3a" stroke-width="0.2" text-anchor="middle">11:59:45.0</text>
<text x="488.2" y="246.86" font-family="'Liberation Serif', 'Times New Roman', serif" font-size="7.2" fill="#3a3a3a" stroke="#3a3a3a" stroke-width="0.2" text-anchor="middle">12:00:00.0</text>
<text x="294.8" y="236.53" font-family="'Liberation Serif', 'Times New Roman', serif" font-size="7.1" fill="#3a3a3a" stroke="#3a3a3a" stroke-width="0.12" text-anchor="end">110</text>
<text x="294.8" y="183.83" font-family="'Liberation Serif', 'Times New Roman', serif" font-size="7.1" fill="#3a3a3a" stroke="#3a3a3a" stroke-width="0.12" text-anchor="end">120</text>
<text x="294.8" y="131.13" font-family="'Liberation Serif', 'Times New Roman', serif" font-size="7.1" fill="#3a3a3a" stroke="#3a3a3a" stroke-width="0.12" text-anchor="end">130</text>
<text x="294.8" y="78.43" font-family="'Liberation Serif', 'Times New Roman', serif" font-size="7.1" fill="#3a3a3a" stroke="#3a3a3a" stroke-width="0.12" text-anchor="end">140</text>
<text x="294.8" y="25.73" font-family="'Liberation Serif', 'Times New Roman', serif" font-size="7.1" fill="#3a3a3a" stroke="#3a3a3a" stroke-width="0.12" text-anchor="end">150</text>
<text x="413.3" y="255.37" font-family="'Liberation Sans', Arial, sans-serif" font-size="6.6" fill="#3a3a3a" stroke="#3a3a3a" stroke-width="0.2" textLength="11.2" lengthAdjust="spacingAndGlyphs">time</text>
<g transform="translate(275.4 124.5) rotate(-90)">
<text x="-3.1" y="2.27" font-family="'Liberation Sans', Arial, sans-serif" font-size="6.6" fill="#3a3a3a" stroke="#3a3a3a" stroke-width="0.2" textLength="6.2" lengthAdjust="spacingAndGlyphs">FL</text>
</g>
<rect x="393" y="13.3" width="44.3" height="14.3" fill="#ffffff"/>
<rect x="401.9" y="30.1" width="33.9" height="14.7" fill="#ffffff"/>
<text x="398.8" y="24.73" font-family="'Liberation Sans', Arial, sans-serif" font-size="11.85" fill="#1e1e1e" stroke="#1e1e1e" stroke-width="0.3" textLength="36.9" lengthAdjust="spacingAndGlyphs">TCAS II</text>
<text x="403.2" y="41.93" font-family="'Liberation Sans', Arial, sans-serif" font-size="12.43" fill="#1e1e1e" stroke="#1e1e1e" stroke-width="0.3" textLength="31" lengthAdjust="spacingAndGlyphs">Run 1</text>
<rect x="492.5" y="15.7" width="42.9" height="25" fill="#ffffff" stroke="#666" stroke-width="1.15"/>
<line x1="495.9" y1="23.2" x2="511.8" y2="23.2" stroke="#3a5ee8" stroke-width="1.7"/>
<line x1="495.9" y1="33.7" x2="511.8" y2="33.7" stroke="#ff4545" stroke-width="1.7"/>
<text x="515.69" y="24.36" font-family="'Liberation Sans', Arial, sans-serif" font-size="5.4" fill="#2a2a2a" stroke="#2a2a2a" stroke-width="0.18" textLength="15.52" lengthAdjust="spacingAndGlyphs">AC001</text>
<text x="515.69" y="34.86" font-family="'Liberation Sans', Arial, sans-serif" font-size="5.4" fill="#2a2a2a" stroke="#2a2a2a" stroke-width="0.18" textLength="15.52" lengthAdjust="spacingAndGlyphs">AC002</text>
<path d="M298.5 59.1 L533.5 209.73" fill="none" stroke="#4055e0" stroke-width="1.6" stroke-opacity="1" clip-path="url(#c2)"/>
<path d="M298.5 59.1 L533.5 209.73" fill="none" stroke="#0a1ccc" stroke-width="2.9" stroke-linecap="round" stroke-dasharray="0 3.76" clip-path="url(#c2)"/>
<path d="M298 29 L534.1 217.79" fill="none" stroke="#ff9c9c" stroke-width="1.7" stroke-opacity="1" clip-path="url(#c2)"/>
<path d="M298 29 L534.1 217.79" fill="none" stroke="#ff4c4c" stroke-width="2.9" stroke-linecap="round" stroke-dasharray="0 4.06" clip-path="url(#c2)"/>
<path d="M298.5 59.1 L394 120.32" fill="none" stroke="#9cb3f8" stroke-width="1.9" stroke-opacity="1" clip-path="url(#c2)"/>
<path d="M298.5 59.1 L394 120.32" fill="none" stroke="#5c7ef0" stroke-width="2.8" stroke-linecap="round" stroke-dasharray="0 3.76" clip-path="url(#c2)"/>
<path d="M394 120.32 C397 120.5 399 120.5 402 120.5 L444.5 120.5 C458 120.5 470 107.3 486 107.3 L510 107.3 C520 107.3 526 111 534 116.8" fill="none" stroke="#8aa6ff" stroke-width="1.3"/>
<path d="M394 120.32 C397 120.5 399 120.5 402 120.5 L444.5 120.5 C458 120.5 470 107.3 486 107.3 L510 107.3 C520 107.3 526 111 534 116.8" fill="none" stroke="#6a8cff" stroke-width="2.4" stroke-linecap="round" stroke-dasharray="0 3.17"/>
<line x1="486.3" y1="107.5" x2="486.3" y2="178.5" stroke="#2a2a2a" stroke-width="1.1" stroke-dasharray="1.1 1.9"/>
<rect x="465.4" y="138.1" width="41.5" height="11.1" fill="#ffffff" stroke="#444" stroke-width="0.9" stroke-dasharray="1.3 1.1"/>
<text x="467.95" y="146.7" font-family="'Liberation Sans', Arial, sans-serif" font-size="6.4" fill="#2a2a2a" stroke="#2a2a2a" stroke-width="0.1" textLength="36.7" lengthAdjust="spacingAndGlyphs">VMD: 1380 ft</text>
<line x1="326.9" y1="51.9" x2="334.8" y2="39.7" stroke="#4a4a4a" stroke-width="0.8"/>
<circle cx="326.9" cy="51.9" r="2.35" fill="#ffff1a" stroke="#707000" stroke-width="0.9"/>
<text x="330.14" y="37.88" font-family="'Liberation Sans', Arial, sans-serif" font-size="9.11" fill="#a65050" stroke="#a65050" stroke-width="0.18" textLength="9.62" lengthAdjust="spacingAndGlyphs">TA</text>
<text x="307.1" y="39.77" font-family="'Liberation Sans', Arial, sans-serif" font-size="6.6" fill="#ff2a2a" stroke="#ff2a2a" stroke-width="0.2" textLength="18.5" lengthAdjust="spacingAndGlyphs">AC002</text>
<text x="307.8" y="70.67" font-family="'Liberation Sans', Arial, sans-serif" font-size="6.6" fill="#3050f0" stroke="#3050f0" stroke-width="0.2" textLength="17.6" lengthAdjust="spacingAndGlyphs">AC001</text>
<line x1="325.3" y1="76.9" x2="321.8" y2="94.5" stroke="#4a4a4a" stroke-width="0.8"/>
<circle cx="325.3" cy="76.9" r="2.35" fill="#ffff1a" stroke="#707000" stroke-width="0.9"/>
<text x="316.84" y="92.89" font-family="'Liberation Sans', Arial, sans-serif" font-size="8.82" fill="#a65050" stroke="#a65050" stroke-width="0.18" textLength="9.52" lengthAdjust="spacingAndGlyphs">TA</text>
<line x1="377.5" y1="92.8" x2="378.4" y2="80.2" stroke="#4a4a4a" stroke-width="0.8"/>
<rect x="375.1" y="90.4" width="4.8" height="4.8" fill="#f20000" stroke="#4a0000" stroke-width="0.8"/>
<circle cx="377.5" cy="92.8" r="0.55" fill="#6a0000"/>
<text x="368.14" y="78.48" font-family="'Liberation Sans', Arial, sans-serif" font-size="9.11" fill="#ff2a2a" stroke="#ff2a2a" stroke-width="0.18" textLength="20.42" lengthAdjust="spacingAndGlyphs">MCDE</text>
<line x1="369.9" y1="105.3" x2="369.9" y2="130.5" stroke="#4a4a4a" stroke-width="0.8"/>
<rect x="367.5" y="102.9" width="4.8" height="4.8" fill="#f20000" stroke="#4a0000" stroke-width="0.8"/>
<circle cx="369.9" cy="105.3" r="0.55" fill="#6a0000"/>
<text x="365.64" y="129.28" font-family="'Liberation Sans', Arial, sans-serif" font-size="8.68" fill="#ff2a2a" stroke="#ff2a2a" stroke-width="0.18" textLength="9.22" lengthAdjust="spacingAndGlyphs">LO</text>
<line x1="436.5" y1="120.5" x2="437.5" y2="107.8" stroke="#4a4a4a" stroke-width="0.8"/>
<rect x="434.1" y="118.1" width="4.8" height="4.8" fill="#f20000" stroke="#4a0000" stroke-width="0.8"/>
<circle cx="436.5" cy="120.5" r="0.55" fill="#6a0000"/>
<text x="432.94" y="106.28" font-family="'Liberation Sans', Arial, sans-serif" font-size="8.53" fill="#ff2a2a" stroke="#ff2a2a" stroke-width="0.18" textLength="8.32" lengthAdjust="spacingAndGlyphs">CL</text>
<line x1="468.2" y1="112.9" x2="467.7" y2="103.4" stroke="#4a4a4a" stroke-width="0.8"/>
<rect x="465.8" y="110.5" width="4.8" height="4.8" fill="#f20000" stroke="#4a0000" stroke-width="0.8"/>
<circle cx="468.2" cy="112.9" r="0.55" fill="#6a0000"/>
<text x="463.04" y="102.08" font-family="'Liberation Sans', Arial, sans-serif" font-size="9.26" fill="#ff2a2a" stroke="#ff2a2a" stroke-width="0.18" textLength="9.62" lengthAdjust="spacingAndGlyphs">LO</text>
<line x1="444.3" y1="146" x2="455.4" y2="136.5" stroke="#4a4a4a" stroke-width="0.8"/>
<rect x="441.9" y="143.6" width="4.8" height="4.8" fill="#f20000" stroke="#4a0000" stroke-width="0.8"/>
<circle cx="444.3" cy="146" r="0.55" fill="#6a0000"/>
<text x="449.74" y="134.48" font-family="'Liberation Sans', Arial, sans-serif" font-size="8.24" fill="#ff2a2a" stroke="#ff2a2a" stroke-width="0.18" textLength="9.72" lengthAdjust="spacingAndGlyphs">LO</text>
<line x1="503.3" y1="107.4" x2="504.2" y2="95.5" stroke="#4a4a4a" stroke-width="0.8"/>
<circle cx="503.3" cy="107.4" r="2.35" fill="#0a6e0a" stroke="#033803" stroke-width="0.9"/>
<text x="496.34" y="93.58" font-family="'Liberation Sans', Arial, sans-serif" font-size="9.26" fill="#34a434" stroke="#34a434" stroke-width="0.18" textLength="15.72" lengthAdjust="spacingAndGlyphs">COC</text>
<line x1="508" y1="197.2" x2="502.5" y2="212.4" stroke="#4a4a4a" stroke-width="0.8"/>
<circle cx="508" cy="197.2" r="2.35" fill="#0a6e0a" stroke="#033803" stroke-width="0.9"/>
<text x="494.74" y="211.48" font-family="'Liberation Sans', Arial, sans-serif" font-size="9.69" fill="#34a434" stroke="#34a434" stroke-width="0.18" textLength="15.92" lengthAdjust="spacingAndGlyphs">COC</text>
<line x1="348.95" y1="263.8" x2="348.95" y2="489.3" stroke="#ececec" stroke-width="0.9"/>
<line x1="397.8" y1="263.8" x2="397.8" y2="489.3" stroke="#ececec" stroke-width="0.9"/>
<line x1="446.65" y1="263.8" x2="446.65" y2="489.3" stroke="#ececec" stroke-width="0.9"/>
<line x1="495.5" y1="263.8" x2="495.5" y2="489.3" stroke="#ececec" stroke-width="0.9"/>
<line x1="544.35" y1="263.8" x2="544.35" y2="489.3" stroke="#ececec" stroke-width="0.9"/>
<line x1="297.5" y1="487.5" x2="544.4" y2="487.5" stroke="#ececec" stroke-width="0.9"/>
<line x1="297.5" y1="435.5" x2="544.4" y2="435.5" stroke="#ececec" stroke-width="0.9"/>
<line x1="297.5" y1="383.5" x2="544.4" y2="383.5" stroke="#ececec" stroke-width="0.9"/>
<line x1="297.5" y1="331.5" x2="544.4" y2="331.5" stroke="#ececec" stroke-width="0.9"/>
<line x1="297.5" y1="279.5" x2="544.4" y2="279.5" stroke="#ececec" stroke-width="0.9"/>
<line x1="297.5" y1="263.8" x2="297.5" y2="490" stroke="#6e6e6e" stroke-width="1.4"/>
<line x1="296.8" y1="489.3" x2="544.4" y2="489.3" stroke="#6e6e6e" stroke-width="1.4"/>
<line x1="316.38" y1="489.3" x2="316.38" y2="487.7" stroke="#333" stroke-width="0.9"/>
<line x1="332.67" y1="489.3" x2="332.67" y2="487.7" stroke="#333" stroke-width="0.9"/>
<line x1="365.23" y1="489.3" x2="365.23" y2="487.7" stroke="#333" stroke-width="0.9"/>
<line x1="381.52" y1="489.3" x2="381.52" y2="487.7" stroke="#333" stroke-width="0.9"/>
<line x1="414.08" y1="489.3" x2="414.08" y2="487.7" stroke="#333" stroke-width="0.9"/>
<line x1="430.37" y1="489.3" x2="430.37" y2="487.7" stroke="#333" stroke-width="0.9"/>
<line x1="462.94" y1="489.3" x2="462.94" y2="487.7" stroke="#333" stroke-width="0.9"/>
<line x1="479.22" y1="489.3" x2="479.22" y2="487.7" stroke="#333" stroke-width="0.9"/>
<line x1="511.79" y1="489.3" x2="511.79" y2="487.7" stroke="#333" stroke-width="0.9"/>
<line x1="528.07" y1="489.3" x2="528.07" y2="487.7" stroke="#333" stroke-width="0.9"/>
<line x1="300.1" y1="489.3" x2="300.1" y2="486.5" stroke="#333" stroke-width="0.9"/>
<line x1="348.95" y1="489.3" x2="348.95" y2="486.5" stroke="#333" stroke-width="0.9"/>
<line x1="397.8" y1="489.3" x2="397.8" y2="486.5" stroke="#333" stroke-width="0.9"/>
<line x1="446.65" y1="489.3" x2="446.65" y2="486.5" stroke="#333" stroke-width="0.9"/>
<line x1="495.5" y1="489.3" x2="495.5" y2="486.5" stroke="#333" stroke-width="0.9"/>
<line x1="544.35" y1="489.3" x2="544.35" y2="486.5" stroke="#333" stroke-width="0.9"/>
<line x1="297.5" y1="477.1" x2="299.1" y2="477.1" stroke="#333" stroke-width="0.9"/>
<line x1="297.5" y1="466.7" x2="299.1" y2="466.7" stroke="#333" stroke-width="0.9"/>
<line x1="297.5" y1="456.3" x2="299.1" y2="456.3" stroke="#333" stroke-width="0.9"/>
<line x1="297.5" y1="445.9" x2="299.1" y2="445.9" stroke="#333" stroke-width="0.9"/>
<line x1="297.5" y1="425.1" x2="299.1" y2="425.1" stroke="#333" stroke-width="0.9"/>
<line x1="297.5" y1="414.7" x2="299.1" y2="414.7" stroke="#333" stroke-width="0.9"/>
<line x1="297.5" y1="404.3" x2="299.1" y2="404.3" stroke="#333" stroke-width="0.9"/>
<line x1="297.5" y1="393.9" x2="299.1" y2="393.9" stroke="#333" stroke-width="0.9"/>
<line x1="297.5" y1="373.1" x2="299.1" y2="373.1" stroke="#333" stroke-width="0.9"/>
<line x1="297.5" y1="362.7" x2="299.1" y2="362.7" stroke="#333" stroke-width="0.9"/>
<line x1="297.5" y1="352.3" x2="299.1" y2="352.3" stroke="#333" stroke-width="0.9"/>
<line x1="297.5" y1="341.9" x2="299.1" y2="341.9" stroke="#333" stroke-width="0.9"/>
<line x1="297.5" y1="321.1" x2="299.1" y2="321.1" stroke="#333" stroke-width="0.9"/>
<line x1="297.5" y1="310.7" x2="299.1" y2="310.7" stroke="#333" stroke-width="0.9"/>
<line x1="297.5" y1="300.3" x2="299.1" y2="300.3" stroke="#333" stroke-width="0.9"/>
<line x1="297.5" y1="289.9" x2="299.1" y2="289.9" stroke="#333" stroke-width="0.9"/>
<line x1="297.5" y1="269.1" x2="299.1" y2="269.1" stroke="#333" stroke-width="0.9"/>
<line x1="297.5" y1="487.5" x2="300.3" y2="487.5" stroke="#333" stroke-width="0.9"/>
<line x1="297.5" y1="435.5" x2="300.3" y2="435.5" stroke="#333" stroke-width="0.9"/>
<line x1="297.5" y1="383.5" x2="300.3" y2="383.5" stroke="#333" stroke-width="0.9"/>
<line x1="297.5" y1="331.5" x2="300.3" y2="331.5" stroke="#333" stroke-width="0.9"/>
<line x1="297.5" y1="279.5" x2="300.3" y2="279.5" stroke="#333" stroke-width="0.9"/>
<text x="300.2" y="497.56" font-family="'Liberation Serif', 'Times New Roman', serif" font-size="7.2" fill="#3a3a3a" stroke="#3a3a3a" stroke-width="0.2" text-anchor="middle">11:59:00.0</text>
<text x="349.05" y="497.56" font-family="'Liberation Serif', 'Times New Roman', serif" font-size="7.2" fill="#3a3a3a" stroke="#3a3a3a" stroke-width="0.2" text-anchor="middle">11:59:15.0</text>
<text x="397.9" y="497.56" font-family="'Liberation Serif', 'Times New Roman', serif" font-size="7.2" fill="#3a3a3a" stroke="#3a3a3a" stroke-width="0.2" text-anchor="middle">11:59:30.0</text>
<text x="446.75" y="497.56" font-family="'Liberation Serif', 'Times New Roman', serif" font-size="7.2" fill="#3a3a3a" stroke="#3a3a3a" stroke-width="0.2" text-anchor="middle">11:59:45.0</text>
<text x="495.6" y="497.56" font-family="'Liberation Serif', 'Times New Roman', serif" font-size="7.2" fill="#3a3a3a" stroke="#3a3a3a" stroke-width="0.2" text-anchor="middle">12:00:00.0</text>
<text x="294.2" y="489.93" font-family="'Liberation Serif', 'Times New Roman', serif" font-size="7.1" fill="#3a3a3a" stroke="#3a3a3a" stroke-width="0.12" text-anchor="end">110</text>
<text x="294.2" y="437.93" font-family="'Liberation Serif', 'Times New Roman', serif" font-size="7.1" fill="#3a3a3a" stroke="#3a3a3a" stroke-width="0.12" text-anchor="end">120</text>
<text x="294.2" y="385.93" font-family="'Liberation Serif', 'Times New Roman', serif" font-size="7.1" fill="#3a3a3a" stroke="#3a3a3a" stroke-width="0.12" text-anchor="end">130</text>
<text x="294.2" y="333.93" font-family="'Liberation Serif', 'Times New Roman', serif" font-size="7.1" fill="#3a3a3a" stroke="#3a3a3a" stroke-width="0.12" text-anchor="end">140</text>
<text x="294.2" y="281.93" font-family="'Liberation Serif', 'Times New Roman', serif" font-size="7.1" fill="#3a3a3a" stroke="#3a3a3a" stroke-width="0.12" text-anchor="end">150</text>
<text x="415.4" y="507.17" font-family="'Liberation Sans', Arial, sans-serif" font-size="6.6" fill="#3a3a3a" stroke="#3a3a3a" stroke-width="0.2" textLength="11.6" lengthAdjust="spacingAndGlyphs">time</text>
<g transform="translate(275.3 377.5) rotate(-90)">
<text x="-3.1" y="2.27" font-family="'Liberation Sans', Arial, sans-serif" font-size="6.6" fill="#3a3a3a" stroke="#3a3a3a" stroke-width="0.2" textLength="6.2" lengthAdjust="spacingAndGlyphs">FL</text>
</g>
<rect x="398" y="272.3" width="39.3" height="14.4" fill="#ffffff"/>
<rect x="401.9" y="289.3" width="33.9" height="14.9" fill="#ffffff"/>
<text x="399.1" y="283.82" font-family="'Liberation Sans', Arial, sans-serif" font-size="11.99" fill="#1e1e1e" stroke="#1e1e1e" stroke-width="0.3" textLength="36.6" lengthAdjust="spacingAndGlyphs">TCAS II</text>
<text x="403.2" y="301.32" font-family="'Liberation Sans', Arial, sans-serif" font-size="12.72" fill="#1e1e1e" stroke="#1e1e1e" stroke-width="0.3" textLength="31" lengthAdjust="spacingAndGlyphs">Run 2</text>
<rect x="499.1" y="270.2" width="41.4" height="24.4" fill="#ffffff" stroke="#666" stroke-width="1.15"/>
<line x1="502.3" y1="277.2" x2="517.9" y2="277.2" stroke="#3a5ee8" stroke-width="1.7"/>
<line x1="502.3" y1="287.7" x2="517.9" y2="287.7" stroke="#ff4545" stroke-width="1.7"/>
<text x="521.29" y="278.36" font-family="'Liberation Sans', Arial, sans-serif" font-size="5.4" fill="#2a2a2a" stroke="#2a2a2a" stroke-width="0.18" textLength="14.42" lengthAdjust="spacingAndGlyphs">AC001</text>
<text x="521.29" y="288.76" font-family="'Liberation Sans', Arial, sans-serif" font-size="5.4" fill="#2a2a2a" stroke="#2a2a2a" stroke-width="0.18" textLength="14.42" lengthAdjust="spacingAndGlyphs">AC002</text>
<path d="M298 313.1 L300 314.34 L302 315.57 L304 316.81 L306 318.05 L308 319.29 L310 320.52 L312 321.76 L314 323 L316 324.23 L318 325.47 L320 326.71 L322 327.94 L324 329.18 L326 330.42 L328 331.66 L330 332.89 L332 334.13 L334 335.37 L336 336.6 L338 337.84 L340 339.08 L342 340.31 L344 341.55 L346 342.79 L348 344.03 L350 345.26 L352 346.5 L354 347.74 L356 348.97 L358 350.21 L360 351.45 L362 352.68 L364 353.92 L366 355.16 L368 356.4 L370 357.63 L372 358.87 L374 360.11 L376 361.34 L378 362.58 L380 363.82 L382 365.05 L384 366.29 L386 367.53 L388 368.77 L390 370 L392 371.24 L394 372.48 L396 373.71 L398 374.95 L400 376.19 L402 377.42 L404 378.66 L406 379.9 L408 381.14 L410 382.37 L412 383.61 L414 384.85 L416 386.08 L418 387.32 L420 388.56 L422 389.79 L424 391.03 L426 392.27 L428 393.5 L430 395.1 L432 396.55 L434 397.96 L436 399.35 L438 400.72 L440 402.09 L442 403.45 L444 404.8 L446 406.15 L448 407.5 L450 408.84 L452 410.17 L454 411.51 L456 412.84 L458 414.17 L460 415.5 L462 416.82 L464 418.15 L466 419.47 L468 420.79 L470 422.11 L472 423.43 L474 424.74 L476 426.06 L478 427.37 L480 428.68 L482 430 L484 431.31 L486 432.62 L488 433.93 L490 435.23 L492 436.54 L494 437.85 L496 439.16 L498 440.46 L500 441.77 L502 443.07 L504 444.37 L506 445.68 L508 446.98 L510 448.28 L512 449.58 L514 450.88 L516 452.18 L518 453.48 L520 454.78 L522 456.08 L524 457.38 L526 458.67 L528 459.97 L530 461.27 L532 462.56 L534 463.86 L536 465.16 L538 466.45 L540 467.75 L541.1 468.46" fill="none" stroke="#9cb3f8" stroke-width="1.7" stroke-opacity="1" clip-path="url(#c4)"/>
<path d="M298 313.1 L300 314.34 L302 315.57 L304 316.81 L306 318.05 L308 319.29 L310 320.52 L312 321.76 L314 323 L316 324.23 L318 325.47 L320 326.71 L322 327.94 L324 329.18 L326 330.42 L328 331.66 L330 332.89 L332 334.13 L334 335.37 L336 336.6 L338 337.84 L340 339.08 L342 340.31 L344 341.55 L346 342.79 L348 344.03 L350 345.26 L352 346.5 L354 347.74 L356 348.97 L358 350.21 L360 351.45 L362 352.68 L364 353.92 L366 355.16 L368 356.4 L370 357.63 L372 358.87 L374 360.11 L376 361.34 L378 362.58 L380 363.82 L382 365.05 L384 366.29 L386 367.53 L388 368.77 L390 370 L392 371.24 L394 372.48 L396 373.71 L398 374.95 L400 376.19 L402 377.42 L404 378.66 L406 379.9 L408 381.14 L410 382.37 L412 383.61 L414 384.85 L416 386.08 L418 387.32 L420 388.56 L422 389.79 L424 391.03 L426 392.27 L428 393.5 L430 395.1 L432 396.55 L434 397.96 L436 399.35 L438 400.72 L440 402.09 L442 403.45 L444 404.8 L446 406.15 L448 407.5 L450 408.84 L452 410.17 L454 411.51 L456 412.84 L458 414.17 L460 415.5 L462 416.82 L464 418.15 L466 419.47 L468 420.79 L470 422.11 L472 423.43 L474 424.74 L476 426.06 L478 427.37 L480 428.68 L482 430 L484 431.31 L486 432.62 L488 433.93 L490 435.23 L492 436.54 L494 437.85 L496 439.16 L498 440.46 L500 441.77 L502 443.07 L504 444.37 L506 445.68 L508 446.98 L510 448.28 L512 449.58 L514 450.88 L516 452.18 L518 453.48 L520 454.78 L522 456.08 L524 457.38 L526 458.67 L528 459.97 L530 461.27 L532 462.56 L534 463.86 L536 465.16 L538 466.45 L540 467.75 L541.1 468.46" fill="none" stroke="#5c7ef0" stroke-width="2.8" stroke-linecap="round" stroke-dasharray="0 3.8" clip-path="url(#c4)"/>
<path d="M428 393.5 L541.1 463.46" fill="none" stroke="#4055e0" stroke-width="1.6" stroke-opacity="1" clip-path="url(#c4)"/>
<path d="M428 393.5 L541.1 463.46" fill="none" stroke="#0a1ccc" stroke-width="2.9" stroke-linecap="round" stroke-dasharray="0 3.8" clip-path="url(#c4)"/>
<path d="M298 283.17 L541.1 471.5" fill="none" stroke="#ff9c9c" stroke-width="1.7" stroke-opacity="1" clip-path="url(#c4)"/>
<path d="M298 283.17 L541.1 471.5" fill="none" stroke="#ff4c4c" stroke-width="2.9" stroke-linecap="round" stroke-dasharray="0 4.1" clip-path="url(#c4)"/>
<rect x="478.5" y="431.7" width="34.2" height="11.5" fill="#ffffff" stroke="#444" stroke-width="0.9" stroke-dasharray="1.3 1.1"/>
<text x="480.05" y="439.7" font-family="'Liberation Sans', Arial, sans-serif" font-size="6.4" fill="#2a2a2a" stroke="#2a2a2a" stroke-width="0.1" textLength="29.6" lengthAdjust="spacingAndGlyphs">VMD: 53 ft</text>
<line x1="326.2" y1="305.6" x2="334.8" y2="297.2" stroke="#4a4a4a" stroke-width="0.8"/>
<circle cx="326.2" cy="305.6" r="2.35" fill="#ffff1a" stroke="#707000" stroke-width="0.9"/>
<text x="329.64" y="295.59" font-family="'Liberation Sans', Arial, sans-serif" font-size="8.24" fill="#a65050" stroke="#a65050" stroke-width="0.18" textLength="8.82" lengthAdjust="spacingAndGlyphs">TA</text>
<text x="305.8" y="293.47" font-family="'Liberation Sans', Arial, sans-serif" font-size="6.6" fill="#ff2a2a" stroke="#ff2a2a" stroke-width="0.2" textLength="17.9" lengthAdjust="spacingAndGlyphs">AC002</text>
<text x="306.5" y="324.37" font-family="'Liberation Sans', Arial, sans-serif" font-size="6.6" fill="#3050f0" stroke="#3050f0" stroke-width="0.2" textLength="16.9" lengthAdjust="spacingAndGlyphs">AC001</text>
<line x1="311.9" y1="322.3" x2="306.2" y2="340.3" stroke="#4a4a4a" stroke-width="0.8"/>
<circle cx="311.9" cy="322.3" r="2.35" fill="#ffff1a" stroke="#707000" stroke-width="0.9"/>
<text x="302.14" y="339.29" font-family="'Liberation Sans', Arial, sans-serif" font-size="8.39" fill="#a65050" stroke="#a65050" stroke-width="0.18" textLength="9.02" lengthAdjust="spacingAndGlyphs">TA</text>
<line x1="375.2" y1="343" x2="388.9" y2="319.1" stroke="#4a4a4a" stroke-width="0.8"/>
<rect x="372.8" y="340.6" width="4.8" height="4.8" fill="#f20000" stroke="#4a0000" stroke-width="0.8"/>
<circle cx="375.2" cy="343" r="0.55" fill="#6a0000"/>
<text x="383.34" y="317.59" font-family="'Liberation Sans', Arial, sans-serif" font-size="8.53" fill="#ff2a2a" stroke="#ff2a2a" stroke-width="0.18" textLength="9.62" lengthAdjust="spacingAndGlyphs">LO</text>
<line x1="376.8" y1="362.4" x2="364.7" y2="390" stroke="#4a4a4a" stroke-width="0.8"/>
<rect x="374.4" y="360" width="4.8" height="4.8" fill="#f20000" stroke="#4a0000" stroke-width="0.8"/>
<circle cx="376.8" cy="362.4" r="0.55" fill="#6a0000"/>
<text x="357.24" y="388.69" font-family="'Liberation Sans', Arial, sans-serif" font-size="9.11" fill="#ff2a2a" stroke="#ff2a2a" stroke-width="0.18" textLength="15.32" lengthAdjust="spacingAndGlyphs">MDE</text>
<line x1="418.9" y1="388.3" x2="403.9" y2="417.9" stroke="#4a4a4a" stroke-width="0.8"/>
<rect x="416.5" y="385.9" width="4.8" height="4.8" fill="#f20000" stroke="#4a0000" stroke-width="0.8"/>
<circle cx="418.9" cy="388.3" r="0.55" fill="#6a0000"/>
<text x="397.64" y="416.29" font-family="'Liberation Sans', Arial, sans-serif" font-size="8.68" fill="#ff2a2a" stroke="#ff2a2a" stroke-width="0.18" textLength="12.22" lengthAdjust="spacingAndGlyphs">IDE</text>
<line x1="430.4" y1="385.7" x2="436.5" y2="356.1" stroke="#4a4a4a" stroke-width="0.8"/>
<rect x="428" y="383.3" width="4.8" height="4.8" fill="#f20000" stroke="#4a0000" stroke-width="0.8"/>
<circle cx="430.4" cy="385.7" r="0.55" fill="#6a0000"/>
<text x="432.04" y="354.38" font-family="'Liberation Sans', Arial, sans-serif" font-size="8.53" fill="#ff2a2a" stroke="#ff2a2a" stroke-width="0.18" textLength="7.72" lengthAdjust="spacingAndGlyphs">CL</text>
<line x1="436.7" y1="390.8" x2="455.8" y2="371.2" stroke="#4a4a4a" stroke-width="0.8"/>
<rect x="434.3" y="388.4" width="4.8" height="4.8" fill="#f20000" stroke="#4a0000" stroke-width="0.8"/>
<circle cx="436.7" cy="390.8" r="0.55" fill="#6a0000"/>
<text x="450.24" y="370.09" font-family="'Liberation Sans', Arial, sans-serif" font-size="8.68" fill="#ff2a2a" stroke="#ff2a2a" stroke-width="0.18" textLength="10.52" lengthAdjust="spacingAndGlyphs">ICL</text>
<line x1="513.1" y1="450.3" x2="486.5" y2="472.8" stroke="#4a4a4a" stroke-width="0.8"/>
<circle cx="513.1" cy="450.3" r="2.35" fill="#0a6e0a" stroke="#033803" stroke-width="0.9"/>
<text x="478.34" y="471.79" font-family="'Liberation Sans', Arial, sans-serif" font-size="9.11" fill="#34a434" stroke="#34a434" stroke-width="0.18" textLength="15.62" lengthAdjust="spacingAndGlyphs">COC</text>
<line x1="518.2" y1="453.3" x2="531.2" y2="418.6" stroke="#4a4a4a" stroke-width="0.8"/>
<circle cx="518.2" cy="453.3" r="2.35" fill="#0a6e0a" stroke="#033803" stroke-width="0.9"/>
<text x="522.84" y="417.49" font-family="'Liberation Sans', Arial, sans-serif" font-size="8.97" fill="#34a434" stroke="#34a434" stroke-width="0.18" textLength="15.22" lengthAdjust="spacingAndGlyphs">COC</text>
</svg>
</body></html>
